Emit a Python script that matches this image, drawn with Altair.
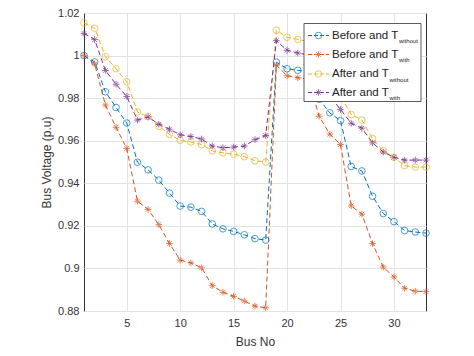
import altair as alt
import pandas as pd

# ---------------- data ----------------
buses = list(range(1, 34))

series_names = ["Before and T_without", "Before and T_with",
                "After and T_without", "After and T_with"]
legend_main = ["Before and T", "Before and T", "After and T", "After and T"]
legend_sub = ["without", "with", "without", "with"]

before_without = [1.0000, 0.9970, 0.9830, 0.9756, 0.9683, 0.9499, 0.9463, 0.9415,
                  0.9354, 0.9293, 0.9288, 0.9268, 0.9209, 0.9186, 0.9174, 0.9158,
                  0.9140, 0.9133, 0.9969, 0.9938, 0.9931, 0.9924, 0.9795, 0.9731,
                  0.9694, 0.9479, 0.9458, 0.9339, 0.9258, 0.9220, 0.9178, 0.9171,
                  0.9166]
before_with = [1.0000, 0.9961, 0.9768, 0.9663, 0.9564, 0.9316, 0.9277, 0.9206,
               0.9117, 0.9039, 0.9026, 0.9003, 0.8919, 0.8888, 0.8869, 0.8847,
               0.8823, 0.8815, 0.9955, 0.9905, 0.9896, 0.9889, 0.9715, 0.9631,
               0.9582, 0.9294, 0.9255, 0.9117, 0.9006, 0.8960, 0.8907, 0.8893,
               0.8891]
after_without = [1.0154, 1.0128, 0.9995, 0.9938, 0.9877, 0.9735, 0.9713, 0.9668,
                 0.9630, 0.9602, 0.9594, 0.9582, 0.9552, 0.9543, 0.9537, 0.9525,
                 0.9506, 0.9499, 1.0119, 1.0086, 1.0076, 1.0066, 0.9940, 0.9880,
                 0.9810, 0.9723, 0.9697, 0.9610, 0.9553, 0.9522, 0.9483, 0.9476,
                 0.9476]
after_with = [1.0104, 1.0075, 0.9930, 0.9865, 0.9808, 0.9697, 0.9712, 0.9677,
              0.9654, 0.9628, 0.9620, 0.9608, 0.9575, 0.9567, 0.9570, 0.9575,
              0.9605, 0.9624, 1.0070, 1.0025, 1.0012, 1.0003, 0.9880, 0.9810,
              0.9747, 0.9682, 0.9659, 0.9590, 0.9547, 0.9522, 0.9509, 0.9509,
              0.9509]

x_ticks = [5, 10, 15, 20, 25, 30]
y_ticks = [0.88, 0.9, 0.92, 0.94, 0.96, 0.98, 1.0, 1.02]

# ---------------- styles ----------------
colors = ["#0072BD", "#D95319", "#EDB120", "#7E2F8E"]
STAR = "M-1,0L1,0M0,-1L0,1M-0.7,-0.7L0.7,0.7M-0.7,0.7L0.7,-0.7"
shapes = ["circle", STAR, "circle", STAR]
FONT = "Liberation Sans"
W, H = 342, 298

all_vals = [before_without, before_with, after_without, after_with]
rows = []
for name, vals in zip(series_names, all_vals):
    for b, v in zip(buses, vals):
        rows.append({"bus": b, "voltage": v, "series": name})
df = pd.DataFrame(rows)

color_scale = alt.Scale(domain=series_names, range=colors)
shape_scale = alt.Scale(domain=series_names, range=shapes)

x_enc = alt.X("bus:Q", scale=alt.Scale(domain=[1, 33], nice=False),
              axis=alt.Axis(values=x_ticks, title="Bus No", grid=True,
                            gridColor="#e3e3e3", domain=False, ticks=False,
                            labelFontSize=11, labelColor="#333333", labelFont=FONT,
                            labelPadding=6, titleFont=FONT, titleFontSize=12,
                            titleFontWeight="normal", titleColor="#333333",
                            titlePadding=8))
y_enc = alt.Y("voltage:Q", scale=alt.Scale(domain=[0.88, 1.02], nice=False, zero=False),
              axis=alt.Axis(values=y_ticks, format="~g", title="Bus Voltage (p.u)",
                            grid=True, gridColor="#e3e3e3", domain=False, ticks=False,
                            labelFontSize=11, labelColor="#333333", labelFont=FONT,
                            labelPadding=5, titleFont=FONT, titleFontSize=12,
                            titleFontWeight="normal", titleColor="#333333",
                            titlePadding=4))

lines = alt.Chart(df).mark_line(strokeDash=[5, 3], strokeWidth=1).encode(
    x=x_enc, y=y_enc,
    color=alt.Color("series:N", scale=color_scale, legend=None),
    detail="series:N",
)
points = alt.Chart(df).mark_point(filled=False, size=44, strokeWidth=1).encode(
    x="bus:Q", y="voltage:Q",
    color=alt.Color("series:N", scale=color_scale, legend=None),
    shape=alt.Shape("series:N", scale=shape_scale, legend=None),
)

# ---------------- manual legend (subscripts) ----------------
one = pd.DataFrame({"k": [0]})
CW = {"B": 667, "e": 556, "f": 278, "o": 556, "r": 333, " ": 278, "a": 556,
      "n": 556, "d": 556, "T": 611, "A": 667, "t": 278}
MAIN_FS = 11.5

def text_w(s, fs):
    return sum(CW.get(c, 556) for c in s) / 1000.0 * fs

box = alt.Chart(one).mark_rect(fill="white", stroke="#333333", strokeWidth=0.8).encode(
    x=alt.value(220), x2=alt.value(337), y=alt.value(10.5), y2=alt.value(88.5))
legend_layers = [box]
row_y = [22.5, 41.5, 61, 79.5]
for i in range(4):
    ly = row_y[i]
    legend_layers.append(alt.Chart(one).mark_rule(
        color=colors[i], strokeDash=[4, 2], strokeWidth=1).encode(
        x=alt.value(224), x2=alt.value(245), y=alt.value(ly)))
    legend_layers.append(alt.Chart(one).mark_point(
        shape=shapes[i], color=colors[i], filled=False, size=42, strokeWidth=1).encode(
        x=alt.value(234.5), y=alt.value(ly)))
    legend_layers.append(alt.Chart(one).mark_text(
        text=legend_main[i], align="left", baseline="middle", font=FONT,
        fontSize=MAIN_FS, color="#222222").encode(
        x=alt.value(248), y=alt.value(ly)))
    legend_layers.append(alt.Chart(one).mark_text(
        text=legend_sub[i], align="left", baseline="middle", font=FONT,
        fontSize=6, color="#222222").encode(
        x=alt.value(248 + text_w(legend_main[i], MAIN_FS) + 0.5), y=alt.value(ly + 5.5)))

chart = alt.layer(lines, points, *legend_layers).properties(
    width=W, height=H,
    autosize=alt.AutoSizeParams(type="none"),
    padding={"left": 76, "top": 5, "right": 40, "bottom": 40},
).configure_view(stroke="#333333", strokeWidth=1)

chart.save("out.html", embed_options={"renderer": "svg", "actions": False})
